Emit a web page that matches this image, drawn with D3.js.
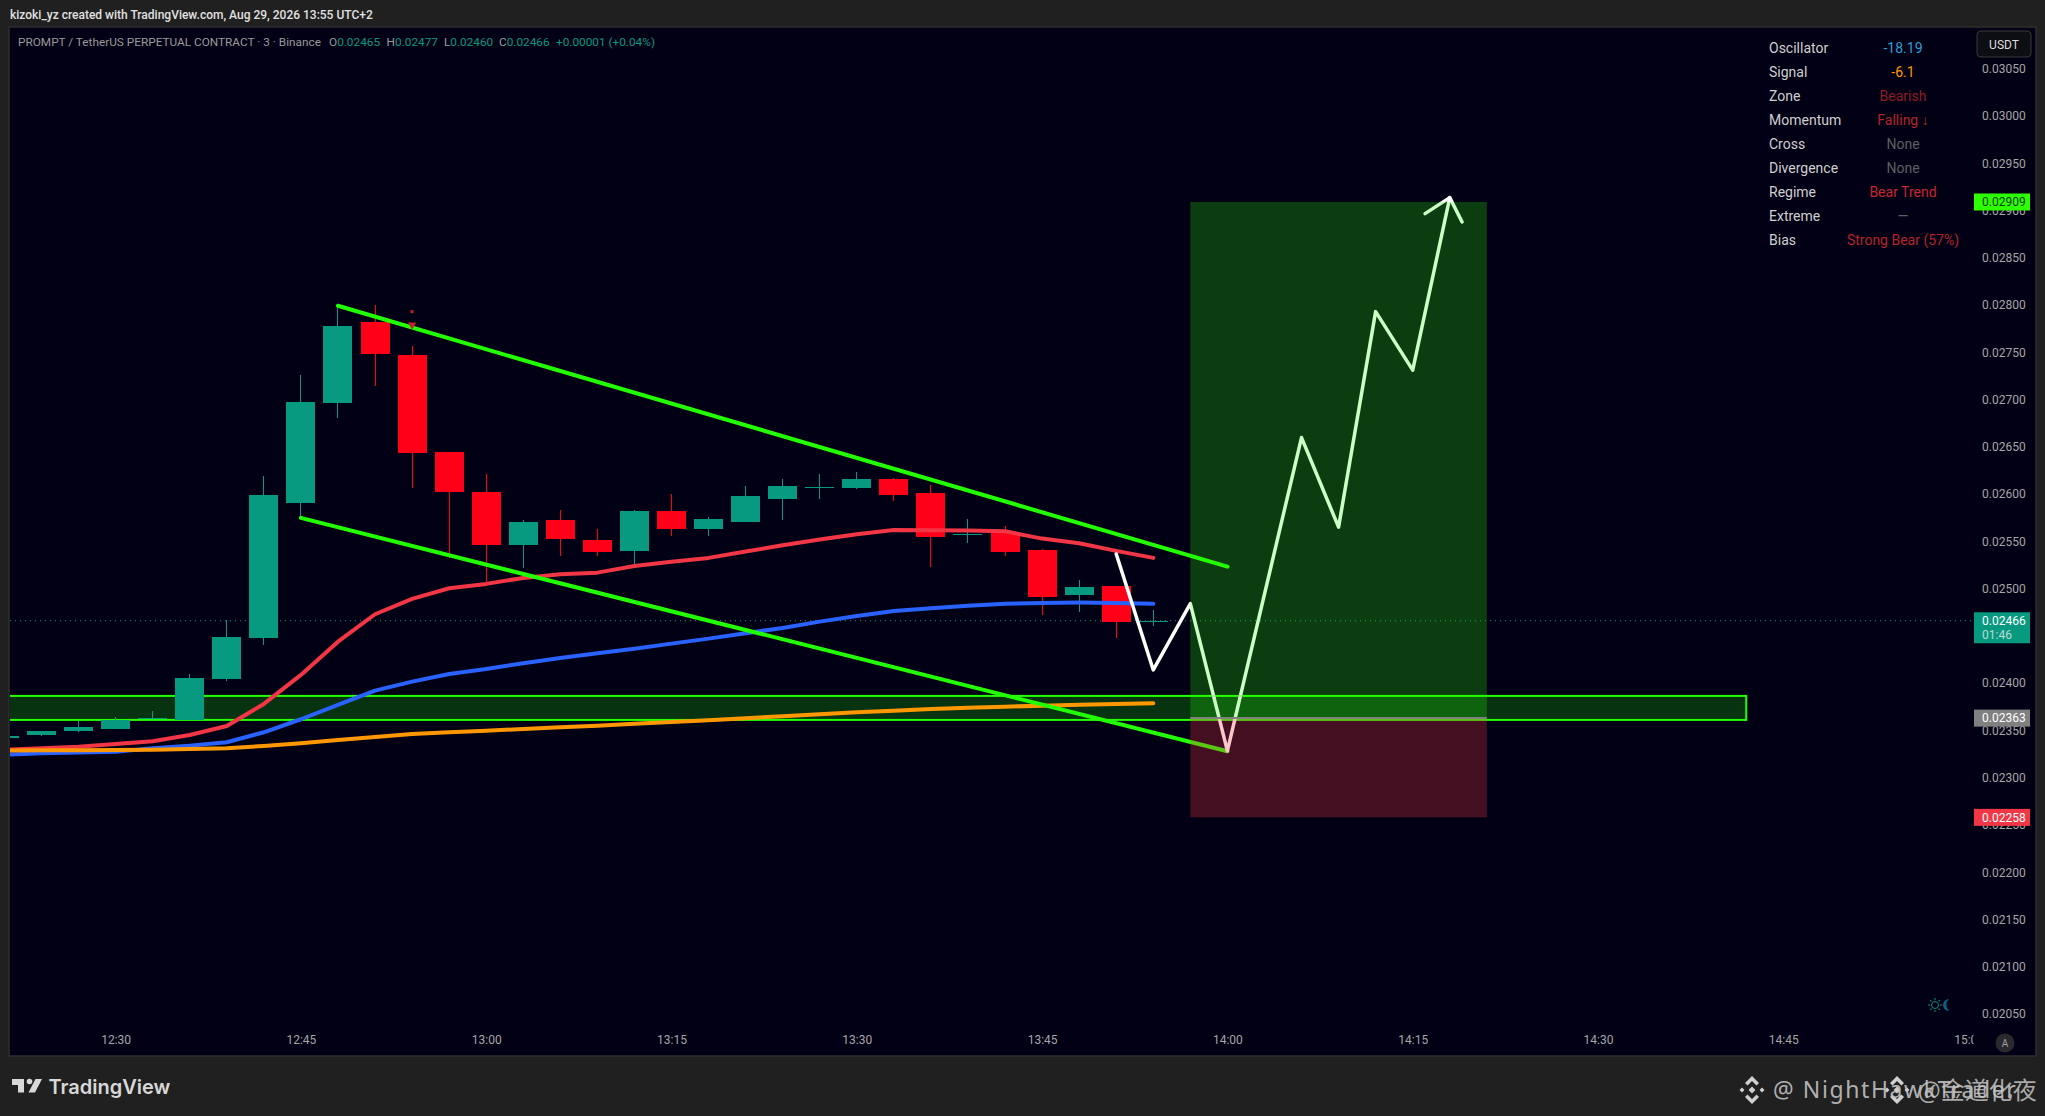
<!DOCTYPE html>
<html lang="en">
<head>
    <meta charset="UTF-8">
    <title>PROMPT / TetherUS 3m</title>
    <style>
        html, body { margin: 0; padding: 0; background: #202020; overflow: hidden; }
        svg { display: block; }
        text { font-family: Roboto, "Noto Sans", sans-serif; }
        .axis path, .axis line { display: none; }
        .axis text { fill: #a6a6a6; font-size: 12px; font-family: Roboto, sans-serif; }
    </style>
</head>
<body>
    <svg id="chart" width="2045" height="1116"></svg>

    <script src="https://d3js.org/d3.v7.min.js"></script>
    <script>
        // candles, 3 minute bars
        const barTimes = ["12:21","12:24","12:27","12:30","12:33","12:36","12:39","12:42","12:45","12:48","12:51","12:54","12:57","13:00","13:03","13:06","13:09","13:12","13:15","13:18","13:21","13:24","13:27","13:30","13:33","13:36","13:39","13:42","13:45","13:48","13:51","13:54"];
        const opens  = [0.02342,0.023452,0.023494,0.023515,0.023618,0.023611,0.024044,0.024478,0.025907,0.026965,0.027822,0.027473,0.026447,0.026023,0.025462,0.025727,0.025515,0.025399,0.025822,0.025632,0.025706,0.025949,0.026073,0.026066,0.026161,0.026013,0.025576,0.0256,0.02541,0.024933,0.025029,0.02465];
        const highs  = [0.023441,0.023494,0.023603,0.023639,0.023706,0.024097,0.024669,0.026193,0.027261,0.028002,0.028002,0.027568,0.026447,0.026214,0.025727,0.025833,0.025632,0.025833,0.026002,0.025759,0.026087,0.026161,0.026214,0.026235,0.026171,0.026097,0.025738,0.025663,0.02542,0.025092,0.025029,0.02477];
        const lows   = [0.02342,0.023444,0.023484,0.023515,0.023618,0.023611,0.024023,0.024404,0.025748,0.026806,0.027145,0.026066,0.025328,0.025063,0.025219,0.025346,0.025346,0.025216,0.025558,0.025558,0.025706,0.025727,0.025949,0.026055,0.025928,0.02523,0.025484,0.025346,0.024722,0.024753,0.024478,0.0246];
        const closes = [0.023441,0.023494,0.023537,0.023611,0.023632,0.024055,0.024489,0.025992,0.026976,0.02778,0.027484,0.026436,0.026023,0.025462,0.025706,0.025526,0.025388,0.025822,0.025632,0.025738,0.025981,0.026087,0.026078,0.026161,0.025992,0.025547,0.025576,0.025388,0.024912,0.025018,0.024648,0.02466];

        // moving averages, one value per bar
        const redMa = [0.023296,0.023311,0.023328,0.023357,0.023385,0.023452,0.023547,0.02378,0.024087,0.024439,0.024729,0.024891,0.025004,0.02505,0.025113,0.025152,0.025169,0.02524,0.025283,0.025325,0.025392,0.025459,0.025519,0.025576,0.025621,0.025618,0.025614,0.025607,0.025529,0.02548,0.025399,0.025325];
        const blueMa = [0.023243,0.023258,0.023265,0.023275,0.023311,0.023339,0.023375,0.02348,0.023618,0.023769,0.023921,0.024016,0.024097,0.02415,0.024211,0.024267,0.024316,0.024365,0.024418,0.024471,0.024528,0.024584,0.024651,0.024711,0.024764,0.024793,0.02482,0.024841,0.024849,0.024852,0.024849,0.024841];
        const orangeMa = [0.023286,0.02329,0.02329,0.023293,0.023296,0.023304,0.023311,0.023335,0.023364,0.023399,0.023431,0.023462,0.02348,0.023497,0.023515,0.023533,0.02355,0.023571,0.023589,0.023607,0.023629,0.02365,0.023671,0.023692,0.023709,0.023727,0.023741,0.023751,0.023762,0.023772,0.02378,0.023787];

        // drawings
        const upperTrendTimes = ["12:48","14:00"];
        const upperTrendPrices = [0.027992,0.025233];
        const lowerTrendTimes = ["12:45","14:00"];
        const lowerTrendPrices = [0.025748,0.023279];
        const forecastTimes = ["13:51","13:54","13:57","14:00","14:06","14:09","14:12","14:15","14:18"];
        const forecastPrices = [0.025367,0.02414,0.024841,0.023283,0.026598,0.02565,0.02793,0.027311,0.029136];
        const arrowTimes = ["14:16","14:18","14:19"];
        const arrowPrices = [0.028967,0.029136,0.028879];
        const zoneTimes = ["12:00","14:42"];
        const zonePrices = [0.023865,0.023611];
        const positionTimes = ["13:57","14:21"];
        const targetPrice = 0.02909, entryPrice = 0.02363, stopPrice = 0.02258;
        const lastPrice = 0.02466;

        // axes
        const priceTicks = [0.0205,0.021,0.0215,0.022,0.0225,0.023,0.0235,0.024,0.0245,0.025,0.0255,0.026,0.0265,0.027,0.0275,0.028,0.0285,0.029,0.0295,0.03,0.0305];
        const timeTicks = ["12:30","12:45","13:00","13:15","13:30","13:45","14:00","14:15","14:30","14:45","15:00"];

        // table top right
        const tableLabels = ["Oscillator","Signal","Zone","Momentum","Cross","Divergence","Regime","Extreme","Bias"];
        const tableValues = ["-18.19","-6.1","Bearish","Falling ↓","None","None","Bear Trend","—","Strong Bear (57%)"];
        const tableColors = ["#2a9fd8","#ff9800","#8f1c24","#b5232d","#5c6060","#5c6060","#c9252f","#5c6060","#b5232d"];

        const width = 2045, height = 1116;
        const pane = { left: 10, right: 1973.5, top: 28, bottom: 1055 };
        const axisRight = 2035;

        const parseTime = d3.timeParse("%H:%M");
        const svg = d3.select("#chart");

        const x = d3.scaleTime()
            .domain([parseTime("12:30"), parseTime("15:00")])
            .range([115.6, 1968.6]);
        const y = d3.scaleLinear()
            .domain([0.0205, 0.0305])
            .range([1014, 68.7]);
        const tx = (t) => x(parseTime(t));

        const bodyWidth = 29;
        const up = "#089981", down = "#ff0018";

        // frame
        svg.append("rect").attr("width", width).attr("height", height).attr("fill", "#202020");
        svg.append("rect")
            .attr("x", pane.left - 1).attr("y", pane.top - 1)
            .attr("width", axisRight - pane.left + 2).attr("height", pane.bottom - pane.top + 2)
            .attr("fill", "#020014").attr("stroke", "#2e2e2e").attr("stroke-width", 1.5);

        svg.append("clipPath").attr("id", "paneClip").append("rect")
            .attr("x", pane.left).attr("y", pane.top)
            .attr("width", pane.right - pane.left).attr("height", pane.bottom - pane.top);

        const plot = svg.append("g").attr("clip-path", "url(#paneClip)");

        // last price dotted line
        plot.append("line")
            .attr("x1", pane.left).attr("x2", pane.right)
            .attr("y1", y(lastPrice)).attr("y2", y(lastPrice))
            .attr("stroke", up).attr("stroke-width", 1).attr("stroke-dasharray", "1 4");

        // support zone
        plot.append("rect")
            .attr("x", tx(zoneTimes[0]))
            .attr("y", y(zonePrices[0]))
            .attr("width", tx(zoneTimes[1]) - tx(zoneTimes[0]))
            .attr("height", y(zonePrices[1]) - y(zonePrices[0]))
            .attr("fill", "rgba(34,255,0,0.2)")
            .attr("stroke", "#22ff00").attr("stroke-width", 2);

        // candles
        const candles = barTimes.map((t, i) => ({ t, o: opens[i], h: highs[i], l: lows[i], c: closes[i] }));
        const candle = plot.selectAll("g.candle").data(candles).enter().append("g")
            .attr("class", "candle")
            .attr("shape-rendering", "crispEdges");
        candle.append("line")
            .attr("x1", (d) => tx(d.t)).attr("x2", (d) => tx(d.t))
            .attr("y1", (d) => y(d.h)).attr("y2", (d) => y(d.l))
            .attr("stroke", (d) => d.c >= d.o ? up : down);
        candle.append("rect")
            .attr("x", (d) => tx(d.t) - bodyWidth / 2)
            .attr("y", (d) => y(Math.max(d.o, d.c)))
            .attr("width", bodyWidth)
            .attr("height", (d) => Math.max(1, Math.abs(y(d.o) - y(d.c))))
            .attr("fill", (d) => d.c >= d.o ? up : down);

        // moving averages
        const maLine = d3.line().x((d, i) => tx(barTimes[i])).y((d) => y(d));
        [[redMa, "#f23645"], [blueMa, "#2962ff"], [orangeMa, "#ff9800"]].forEach(([values, colour]) => {
            plot.append("path")
                .attr("d", maLine(values))
                .attr("fill", "none").attr("stroke", colour)
                .attr("stroke-width", 4).attr("stroke-linecap", "round").attr("stroke-linejoin", "round");
        });

        // trend lines and forecast path
        const drawnLine = (times, prices, colour, w) => {
            plot.append("path")
                .attr("d", d3.line()(times.map((t, i) => [tx(t), y(prices[i])])))
                .attr("fill", "none").attr("stroke", colour).attr("stroke-width", w)
                .attr("stroke-linecap", "round").attr("stroke-linejoin", "round");
        };
        drawnLine(upperTrendTimes, upperTrendPrices, "#22ff00", 4);
        drawnLine(lowerTrendTimes, lowerTrendPrices, "#22ff00", 4);
        drawnLine(forecastTimes, forecastPrices, "#ffffff", 3.5);
        drawnLine(arrowTimes, arrowPrices, "#ffffff", 3.5);

        // signal marker above 12:54 bar
        plot.append("path")
            .attr("d", d3.symbol(d3.symbolSquare, 9)())
            .attr("transform", `translate(${tx("12:54")},${y(0.02793)})`)
            .attr("fill", "#c4202c");
        plot.append("path")
            .attr("d", d3.symbol(d3.symbolTriangle, 30)())
            .attr("transform", `translate(${tx("12:54")},${y(0.02779)}) rotate(180)`)
            .attr("fill", "#c4202c");

        // long position tool, translucent and above the drawings
        const posX = tx(positionTimes[0]), posW = tx(positionTimes[1]) - posX;
        plot.append("rect")
            .attr("x", posX).attr("y", y(targetPrice))
            .attr("width", posW).attr("height", y(entryPrice) - y(targetPrice))
            .attr("fill", "rgba(40,255,10,0.24)");
        plot.append("rect")
            .attr("x", posX).attr("y", y(entryPrice))
            .attr("width", posW).attr("height", y(stopPrice) - y(entryPrice))
            .attr("fill", "rgba(242,54,69,0.28)");
        plot.append("line")
            .attr("x1", posX).attr("x2", posX + posW)
            .attr("y1", y(entryPrice)).attr("y2", y(entryPrice))
            .attr("stroke", "#808080").attr("stroke-width", 2);

        // price axis
        svg.append("g").attr("class", "axis")
            .attr("transform", "translate(1982,0)")
            .call(d3.axisRight(y).tickValues(priceTicks).tickFormat((d) => d.toFixed(5)).tickSize(0).tickPadding(0));

        // time axis, clipped where the price scale starts
        svg.append("g").attr("class", "axis")
            .attr("clip-path", "url(#paneClip)")
            .append("g")
            .attr("transform", "translate(0,1035)")
            .call(d3.axisBottom(x).tickValues(timeTicks.map(parseTime)).tickFormat(d3.timeFormat("%H:%M")).tickSize(0).tickPadding(0));

        // price labels
        const priceLabel = (price, fill, colour, h) => {
            svg.append("rect")
                .attr("x", 1974).attr("y", y(price) - 8.5).attr("width", 56).attr("height", h || 17).attr("fill", fill);
            svg.append("text")
                .attr("x", 1982).attr("y", y(price)).attr("dy", "0.36em")
                .attr("font-size", 12).attr("fill", colour).text(price.toFixed(5));
        };
        priceLabel(targetPrice, "#2bff00", "#0a3a00");
        priceLabel(entryPrice, "#808080", "#ffffff");
        priceLabel(stopPrice, "#f23645", "#ffffff");
        priceLabel(lastPrice, up, "#ffffff", 31);
        svg.append("text")
            .attr("x", 1982).attr("y", y(lastPrice) + 14).attr("dy", "0.36em")
            .attr("font-size", 12).attr("fill", "#b8dcd6").text("01:46");

        // USDT button
        svg.append("rect")
            .attr("x", 1977).attr("y", 31).attr("width", 54).attr("height", 26).attr("rx", 4)
            .attr("fill", "#0d0d14").attr("stroke", "#3a3a3a");
        svg.append("text")
            .attr("x", 2004).attr("y", 44.5).attr("dy", "0.36em").attr("text-anchor", "middle")
            .attr("font-size", 12).attr("fill", "#dddddd").text("USDT");

        // indicator table
        const rowY = d3.scaleLinear().domain([0, 8]).range([48.3, 240.3]);
        tableLabels.forEach((label, i) => {
            svg.append("text")
                .attr("x", 1769).attr("y", rowY(i)).attr("dy", "0.36em")
                .attr("font-size", 14).attr("fill", "#cfcfcf").text(label);
            svg.append("text")
                .attr("x", 1903).attr("y", rowY(i)).attr("dy", "0.36em").attr("text-anchor", "middle")
                .attr("font-size", 14).attr("fill", tableColors[i]).text(tableValues[i]);
        });

        // header
        svg.append("text")
            .attr("x", 10).attr("y", 15).attr("dy", "0.36em")
            .attr("font-size", 12).attr("font-weight", 500).attr("fill", "#e0e0e0")
            .text("kizoki_yz created with TradingView.com, Aug 29, 2026 13:55 UTC+2");

        // instrument legend
        const headText = svg.append("text").attr("y", 42).attr("dy", "0.36em").attr("font-size", 11.8);
        headText.append("tspan").attr("x", 18).attr("fill", "#9a9a9a").text("PROMPT / TetherUS PERPETUAL CONTRACT · 3 · Binance");
        const ohlcX = [329, 386.6, 444, 499];
        ["O", "H", "L", "C"].forEach((k, i) => {
            const v = [opens, highs, lows, closes][i][barTimes.length - 1];
            headText.append("tspan").attr("x", ohlcX[i]).attr("fill", "#9a9a9a").text(k);
            headText.append("tspan").attr("fill", up).text(v.toFixed(5));
        });
        headText.append("tspan").attr("x", 556).attr("fill", up).text("+0.00001 (+0.04%)");

        // bottom corner widgets
        svg.append("circle").attr("cx", 2005).attr("cy", 1043).attr("r", 9.5).attr("fill", "#2a2a2e");
        svg.append("text")
            .attr("x", 2005).attr("y", 1043.5).attr("dy", "0.36em").attr("text-anchor", "middle")
            .attr("font-size", 10).attr("fill", "#a0a0a0").text("A");

        // session icon, sun and moon
        const sun = svg.append("g").attr("transform", "translate(1935,1005)");
        sun.append("circle").attr("r", 3.5).attr("fill", "none").attr("stroke", "#0f8f80");
        d3.range(0, 360, 45).forEach((a) => {
            sun.append("line")
                .attr("x1", 5).attr("x2", 7)
                .attr("transform", `rotate(${a})`)
                .attr("stroke", "#0f8f80");
        });
        svg.append("path")
            .attr("d", "M1949 999A6 6 0 0 0 1949 1011A8 8 0 0 1 1949 999Z")
            .attr("fill", "#0f5f80");

        // TradingView logo
        const logo = svg.append("g").attr("fill", "#d8d8d8");
        logo.append("path").attr("d", "M12 1079H24V1092.5H18V1085H12Z");
        logo.append("circle").attr("cx", 29.5).attr("cy", 1081.5).attr("r", 2.8);
        logo.append("path").attr("d", "M35.5 1079H42L35 1092.5H28.5Z");
        logo.append("text")
            .attr("x", 48.5).attr("y", 1086.5).attr("dy", "0.36em")
            .style("font-family", "Inter, sans-serif").attr("font-size", 20).attr("font-weight", 600).text("TradingView");

        // watermark
        const binance = (cx, cy) => {
            const g = svg.append("g").attr("transform", `translate(${cx},${cy})`).attr("fill", "#cfcfcf");
            g.append("path").attr("d", "M0 -14L7 -7L4.5 -4.5L0 -9L-4.5 -4.5L-7 -7Z");
            g.append("path").attr("d", "M0 14L7 7L4.5 4.5L0 9L-4.5 4.5L-7 7Z");
            g.append("path").attr("d", "M0 -3.5L3.5 0L0 3.5L-3.5 0Z");
            g.append("path").attr("d", "M-10 -2.5L-7.5 0L-10 2.5L-12.5 0Z");
            g.append("path").attr("d", "M10 -2.5L12.5 0L10 2.5L7.5 0Z");
        };
        binance(1752, 1090);
        binance(1897, 1090);
        svg.append("text")
            .attr("x", 1773).attr("y", 1090).attr("dy", "0.36em")
            .style("font-family", "'Noto Sans', sans-serif").attr("font-size", 23).attr("letter-spacing", 1.6)
            .attr("fill", "#c4c4c4").attr("fill-opacity", 0.9).text("@ NightHawkTrader");
        svg.append("text")
            .attr("x", 1918).attr("y", 1090).attr("dy", "0.36em")
            .style("font-family", "'Noto Sans CJK SC', sans-serif").attr("font-size", 24)
            .attr("fill", "#c4c4c4").attr("fill-opacity", 0.85).text("@金道化夜");
    </script>
</body>
</html>
